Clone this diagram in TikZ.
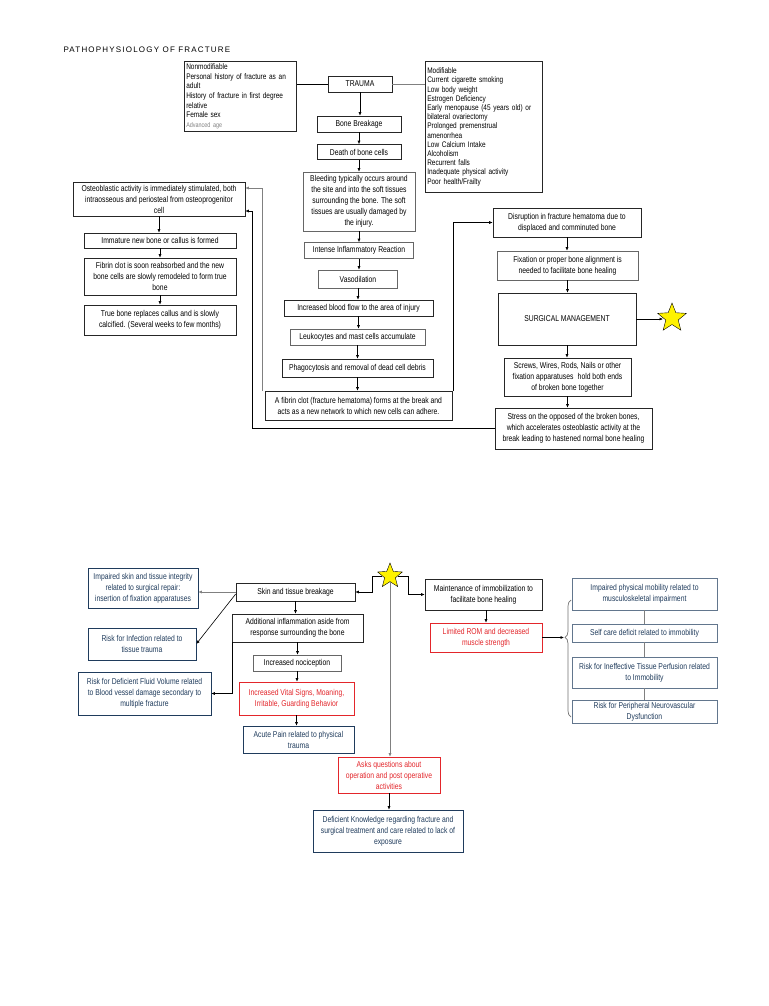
\documentclass[tikz,border=0pt]{standalone}
\usepackage{fontspec}
\setmainfont{Liberation Sans}[FakeStretch=0.8]
\newfontfamily\titlefont[LetterSpace=15]{Liberation Sans}
\usetikzlibrary{arrows.meta,shapes.geometric,calc,decorations.pathreplacing}
\definecolor{navy}{HTML}{1F3B5C}
\definecolor{alertred}{HTML}{E3262B}

\begin{document}
\begin{tikzpicture}[x=1pt,y=-1pt,
  box/.style={draw=black!85,line width=0.6pt,align=center,inner sep=1pt,font=\fontsize{8.5}{11}\selectfont},
  listbox/.style={box,align=left,anchor=north west,inner sep=2pt,font=\fontsize{8.1}{9.2}\selectfont},
  redbox/.style={box,draw=alertred,text=alertred},
  navybox/.style={box,draw=navy,text=navy},
  flow/.style={-{Latex[length=3.5pt,width=3pt]},line width=0.6pt},
  starnode/.style={star,star points=5,star point ratio=2.3,draw,fill=yellow,inner sep=0pt}]
\fill[white] (0,0) rectangle (768,1006);
\useasboundingbox (0,0) rectangle (768,1006);
% the title
\node[anchor=west,font=\titlefont\fontsize{8}{9}\selectfont] (title) at (60,50) {PATHOPHYSIOLOGY OF FRACTURE};
% the risk factors and the trauma
\node[listbox,font=\fontsize{8.1}{9.7}\selectfont,text width=108pt,minimum height=70pt] (nonmod) at (184,61) {Nonmodifiable\\Personal history of fracture as an\\adult\\History of fracture in first degree\\relative\\Female sex\\{\color{gray}\fontsize{6.8}{9}\selectfont Advanced age}};
\node[box,minimum width=64pt,minimum height=16pt] (trauma) at (360,84) {TRAUMA};
\node[listbox,text width=113pt,minimum height=131pt] (modif) at (425,61) {Modifiable\\Current cigarette smoking\\Low body weight\\Estrogen Deficiency\\Early menopause (45 years old) or\\bilateral ovariectomy\\Prolonged premenstrual\\amenorrhea\\Low Calcium Intake\\Alcoholism\\Recurrent falls\\Inadequate physical activity\\Poor health/Frailty};
\draw[line width=0.6pt] (nonmod.east |- trauma.west) -- (trauma.west);
\draw[line width=0.6pt,gray] (trauma.east) -- (modif.west |- trauma.east);
% the central column
\node[box,minimum width=84pt,minimum height=16pt] (bone) at (359,124) {Bone Breakage};
\node[box,minimum width=84pt,minimum height=15pt] (death) at (359,152) {Death of bone cells};
\node[box,draw=black!60,minimum width=112pt,minimum height=59pt] (bleeding) at (359,201.5) {Bleeding typically occurs around\\the site and into the soft tissues\\surrounding the bone. The soft\\tissues are usually damaged by\\the injury.};
\node[box,draw=black!60,minimum width=109pt,minimum height=16pt] (intense) at (359,250.5) {Intense Inflammatory Reaction};
\node[box,draw=black!60,minimum width=79pt,minimum height=18pt] (vaso) at (358,279) {Vasodilation};
\node[box,minimum width=149pt,minimum height=16pt] (blood) at (358.5,308) {Increased blood flow to the area of injury};
\node[box,draw=black!60,minimum width=135pt,minimum height=16pt] (leuko) at (357.5,337) {Leukocytes and mast cells accumulate};
\node[box,minimum width=151pt,minimum height=18pt] (phago) at (357.5,368) {Phagocytosis and removal of dead cell debris};
\node[box,minimum width=187pt,minimum height=29pt] (fibrin) at (358.5,405.5) {A fibrin clot (fracture hematoma) forms at the break and\\acts as a new network to which new cells can adhere.};
\foreach \a/\b in {trauma/bone,bone/death,death/bleeding,bleeding/intense,intense/vaso,vaso/blood,blood/leuko,leuko/phago,phago/fibrin}
  \draw[flow] (\a.south) -- (\a.south |- \b.north);
% the left column
\node[box,minimum width=172pt,minimum height=34pt] (osteo) at (159,199) {Osteoblastic activity is immediately stimulated, both\\intraosseous and periosteal from osteoprogenitor\\cell};
\node[box,minimum width=152pt,minimum height=15pt] (immature) at (160,240.5) {Immature new bone or callus is formed};
\node[box,minimum width=152pt,minimum height=37pt] (fibrinsoon) at (160,276.5) {Fibrin clot is soon reabsorbed and the new\\bone cells are slowly remodeled to form true\\bone};
\node[box,minimum width=152pt,minimum height=30pt] (truebone) at (160,320) {True bone replaces callus and is slowly\\calcified. (Several weeks to few months)};
\foreach \a/\b in {osteo/immature,immature/fibrinsoon,fibrinsoon/truebone}
  \draw[flow] (\a.south) -- (\a.south |- \b.north);
% the right column
\node[box,minimum width=148pt,minimum height=29pt] (disruption) at (567,222.5) {Disruption in fracture hematoma due to\\displaced and comminuted bone};
\node[box,draw=black!60,minimum width=141pt,minimum height=29pt] (fixation) at (567.5,265.5) {Fixation or proper bone alignment is\\needed to facilitate bone healing};
\node[box,minimum width=138pt,minimum height=52pt] (surgical) at (567,319) {SURGICAL MANAGEMENT};
\node[box,minimum width=127pt,minimum height=38pt] (screws) at (567.5,377) {Screws, Wires, Rods, Nails or other\\fixation apparatuses\enspace hold both ends\\of broken bone together};
\node[box,minimum width=157pt,minimum height=41pt] (stress) at (573.5,428.5) {Stress on the opposed of the broken bones,\\which accelerates osteoblastic activity at the\\break leading to hastened normal bone healing};
\node[starnode,minimum size=30pt] (star1) at (672,318) {};
\foreach \a/\b in {disruption/fixation,fixation/surgical,surgical/screws,screws/stress}
  \draw[flow] (\a.south) -- (\a.south |- \b.north);
\draw[flow] (surgical.east) -- (surgical.east -| star1.west);
% the feedback lines
\draw[flow,gray] ([xshift=-2pt]fibrin.north west) |- ($(osteo.east)+(0,-11)$);
\draw[flow] (stress.west) -- ++(-242,0) |- ($(osteo.east)+(0,12)$);
\draw[flow] ([xshift=1pt]fibrin.north east) |- (disruption.west);
% the second part
\node[starnode,minimum size=26pt] (star2) at (390,576) {};
\node[box,minimum width=119pt,minimum height=18pt] (skin) at (295.5,592) {Skin and tissue breakage};
\node[box,minimum width=131pt,minimum height=28pt] (additional) at (297.5,628) {Additional inflammation aside from\\response surrounding the bone};
\node[box,draw=black!60,minimum width=88pt,minimum height=16pt] (nocicep) at (297,663) {Increased nociception};
\node[redbox,minimum width=115pt,minimum height=33pt] (vital) at (296.5,698.5) {Increased Vital Signs, Moaning,\\Irritable, Guarding Behavior};
\node[navybox,minimum width=111pt,minimum height=27pt] (acute) at (298.5,739.5) {Acute Pain related to physical\\trauma};
\node[navybox,minimum width=110pt,minimum height=40pt] (impaired) at (143,588) {Impaired skin and tissue integrity\\related to surgical repair:\\insertion of fixation apparatuses};
\node[navybox,minimum width=108pt,minimum height=32pt] (infection) at (142,644) {Risk for Infection related to\\tissue trauma};
\node[navybox,minimum width=133pt,minimum height=43pt] (fluid) at (144.5,693.5) {Risk for Deficient Fluid Volume related\\to Blood vessel damage secondary to\\multiple fracture};
\node[box,minimum width=117pt,minimum height=31pt] (maint) at (483.5,594.5) {Maintenance of immobilization to\\facilitate bone healing};
\node[redbox,minimum width=112pt,minimum height=29pt] (limited) at (486,637.5) {Limited ROM and decreased\\muscle strength};
\node[navybox,draw=navy!70,minimum width=145pt,minimum height=32pt] (mobility) at (644.5,594) {Impaired physical mobility related to\\musculoskeletal impairment};
\node[navybox,draw=navy!70,minimum width=145pt,minimum height=18pt] (selfcare) at (644.5,633) {Self care deficit related to immobility};
\node[navybox,draw=navy!70,minimum width=145pt,minimum height=31pt] (tissue) at (644.5,672.5) {Risk for Ineffective Tissue Perfusion related\\to Immobility};
\node[navybox,draw=navy!70,minimum width=145pt,minimum height=23pt] (periph) at (644.5,711.5) {Risk for Peripheral Neurovascular\\Dysfunction};
\node[redbox,minimum width=102pt,minimum height=36pt] (asks) at (389,775) {Asks questions about\\operation and post operative\\activities};
\node[navybox,minimum width=150pt,minimum height=42pt] (deficient) at (388,831) {Deficient Knowledge regarding fracture and\\surgical treatment and care related to lack of\\exposure};
% the connectors of the second part
\draw[flow] (star2.west) -- ++(-10,0) |- (skin.east);
\draw[flow] (star2.east) -- ++(10,0) |- (maint.west);
\draw[flow,gray] (star2.south) -- (star2.south |- asks.north);
\draw[flow] (asks.south) -- (asks.south |- deficient.north);
\draw[flow,gray] (skin.west) -- (skin.west -| impaired.east);
\draw[flow] ([yshift=-2pt]skin.west) -- (infection.east);
\draw[flow] ([xshift=1pt]additional.south west) |- (fluid.east);
\foreach \a/\b in {skin/additional,additional/nocicep,nocicep/vital,vital/acute}
  \draw[flow] (\a.south) -- (\a.south |- \b.north);
\draw[flow] (limited.north |- maint.south) -- (limited.north);
\foreach \a/\b in {mobility/selfcare,selfcare/tissue,tissue/periph}
  \draw[gray,line width=0.6pt] (\a.south) -- (\b.north);
% the brace
\draw[black!55,line width=0.7pt,decorate,decoration={brace,amplitude=6pt,aspect=0.68}] (571,717) -- (571,600);
\coordinate (bracetip) at (564,637.5);
\draw[flow] (limited.east) -- (bracetip);
\end{tikzpicture}
\end{document}
